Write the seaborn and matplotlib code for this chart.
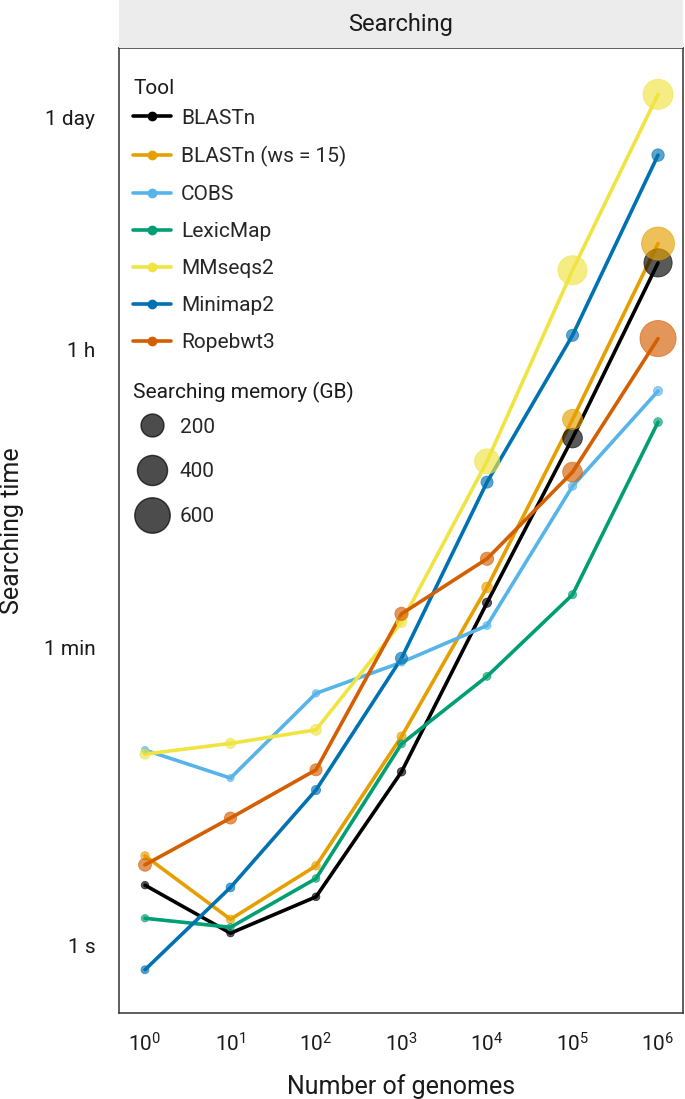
import numpy as np
import pandas as pd
import matplotlib
matplotlib.use("Agg")
import matplotlib.pyplot as plt
import matplotlib.colors as mcolors
from matplotlib.lines import Line2D
import seaborn as sns

# values (seconds / GB)
genomes = [1, 10, 100, 1000, 10000, 100000, 1000000]
tools = ["BLASTn", "BLASTn (ws = 15)", "COBS", "LexicMap", "MMseqs2", "Minimap2", "Ropebwt3"]
colors = ["#000000", "#E69F00", "#56B4E9", "#009E73", "#F0E442", "#0072B2", "#D55E00"]

time_blastn = [2.30, 1.19, 1.96, 10.9, 111, 1064, 11780]
time_blastn_ws15 = [3.44, 1.44, 3.00, 17.7, 137, 1375, 15380]
time_cobs = [14.7, 10.0, 32.0, 49.0, 81.2, 550, 2029]
time_lexicmap = [1.46, 1.29, 2.52, 16.0, 40.4, 124, 1325]
time_mmseqs2 = [13.9, 16.1, 19.4, 84.9, 773, 10650, 119100]
time_minimap2 = [0.72, 2.23, 8.49, 51.8, 581, 4360, 51740]
time_ropebwt3 = [3.04, 5.78, 11.2, 95.3, 203, 667, 4170]

mem_blastn = [4, 4, 5, 8, 12, 135, 340]
mem_blastn_ws15 = [8, 8, 9, 12, 22, 140, 500]
mem_cobs = [3, 3, 4, 5, 6, 8, 12]
mem_lexicmap = [4, 4, 5, 6, 6, 7, 10]
mem_mmseqs2 = [18, 18, 25, 20, 250, 370, 400]
mem_minimap2 = [6, 10, 12, 33, 33, 33, 36]
mem_ropebwt3 = [40, 33, 33, 44, 44, 135, 630]

y_tick_values = [1, 60, 3600, 86400]
y_tick_labels = ["1 s", "1 min", "1 h", "1 day"]
x_tick_labels = ["$\\mathregular{10^{%d}}$" % i for i in range(7)]
mem_legend_values = [200, 400, 600]

times = [time_blastn, time_blastn_ws15, time_cobs, time_lexicmap,
         time_mmseqs2, time_minimap2, time_ropebwt3]
mems = [mem_blastn, mem_blastn_ws15, mem_cobs, mem_lexicmap,
        mem_mmseqs2, mem_minimap2, mem_ropebwt3]

rows = []
for tool, t, m in zip(tools, times, mems):
    for g, tt, mm in zip(genomes, t, m):
        rows.append({"Tool": tool, "genomes": g, "time": tt, "mem": mm})
df = pd.DataFrame(rows)

sns.set_style("white")
plt.rcParams["font.family"] = ["Roboto", "DejaVu Sans"]
plt.rcParams["mathtext.fontset"] = "custom"
plt.rcParams["mathtext.rm"] = "Roboto"
plt.rcParams["mathtext.it"] = "Roboto:italic"
plt.rcParams["mathtext.bf"] = "Roboto:bold"

palette = dict(zip(tools, colors))
size_lo, size_hi = 19, 737
size_norm = mcolors.PowerNorm(gamma=0.83, vmin=0, vmax=700)

fig = plt.figure(figsize=(6.85, 10.99), dpi=100)
ax = fig.add_axes([0.1737, 0.0783, 0.8234, 0.878])
ax.set_xscale("log")
ax.set_yscale("log")

sns.lineplot(data=df, x="genomes", y="time", hue="Tool", hue_order=tools,
             palette=palette, estimator=None, lw=2.6, legend=False, ax=ax)
sns.scatterplot(data=df, x="genomes", y="time", hue="Tool", hue_order=tools,
                palette=palette, size="mem", sizes=(size_lo, size_hi),
                size_norm=size_norm, alpha=0.65, edgecolor="face", linewidth=0.6,
                legend=False, ax=ax, zorder=3)

ax.set_xlim(10 ** -0.304, 10 ** 6.292)
ax.set_ylim(10 ** -0.400, 10 ** 5.352)
ax.set_xticks(genomes)
ax.set_xticklabels(x_tick_labels)
ax.set_yticks(y_tick_values)
ax.set_yticklabels(y_tick_labels)
ax.minorticks_off()
ax.tick_params(axis="both", which="major", direction="out", length=8, width=1.1,
               color="#333333", labelsize=15, labelcolor="#1a1a1a")
ax.tick_params(axis="x", pad=6)
ax.tick_params(axis="y", pad=9)
for sp in ax.spines.values():
    sp.set_color("#333333")
    sp.set_linewidth(1.1)
ax.set_xlabel("Number of genomes", fontsize=18, labelpad=13, color="#1a1a1a")
ax.set_ylabel("Searching time", fontsize=18, labelpad=14, color="#1a1a1a")

# facet strip
strip = fig.add_axes([0.1737, 0.9563, 0.8234, 0.0437])
strip.set_facecolor("#ececec")
strip.set_xticks([])
strip.set_yticks([])
for sp in strip.spines.values():
    sp.set_visible(False)
strip.text(0.5, 0.5, "Searching", ha="center", va="center", fontsize=17, color="#1a1a1a")

# legends (titles drawn as plain text so row spacing can be set freely)
ax.text(0.025, 0.9585, "Tool", transform=ax.transAxes, ha="left", va="center",
        fontsize=15, color="#1a1a1a")
tool_handles = [Line2D([], [], color=c, lw=2.6, marker="o", ms=6,
                       markerfacecolor=c, markeredgecolor=c)
                for c in colors]
leg1 = ax.legend(tool_handles, tools, loc="upper left",
                 bbox_to_anchor=(0.025, 0.9372), frameon=False, fontsize=15,
                 handlelength=1.8, handletextpad=0.5,
                 labelspacing=0.87, borderpad=0, borderaxespad=0)
ax.add_artist(leg1)

ax.text(0.025, 0.6435, "Searching memory (GB)", transform=ax.transAxes,
        ha="left", va="center", fontsize=15, color="#1a1a1a")
mem_handles = []
for v in mem_legend_values:
    area = size_lo + (size_hi - size_lo) * float(size_norm(v))
    mem_handles.append(Line2D([], [], ls="", marker="o", ms=np.sqrt(area),
                              markerfacecolor="black", markeredgecolor="black",
                              alpha=0.7))
leg2 = ax.legend(mem_handles, [str(v) for v in mem_legend_values],
                 loc="upper left", bbox_to_anchor=(0.025, 0.6168), frameon=False,
                 fontsize=15, handlelength=1.8, handletextpad=0.45,
                 labelspacing=1.23, borderpad=0, borderaxespad=0)

fig.savefig("out.png", dpi=100)
